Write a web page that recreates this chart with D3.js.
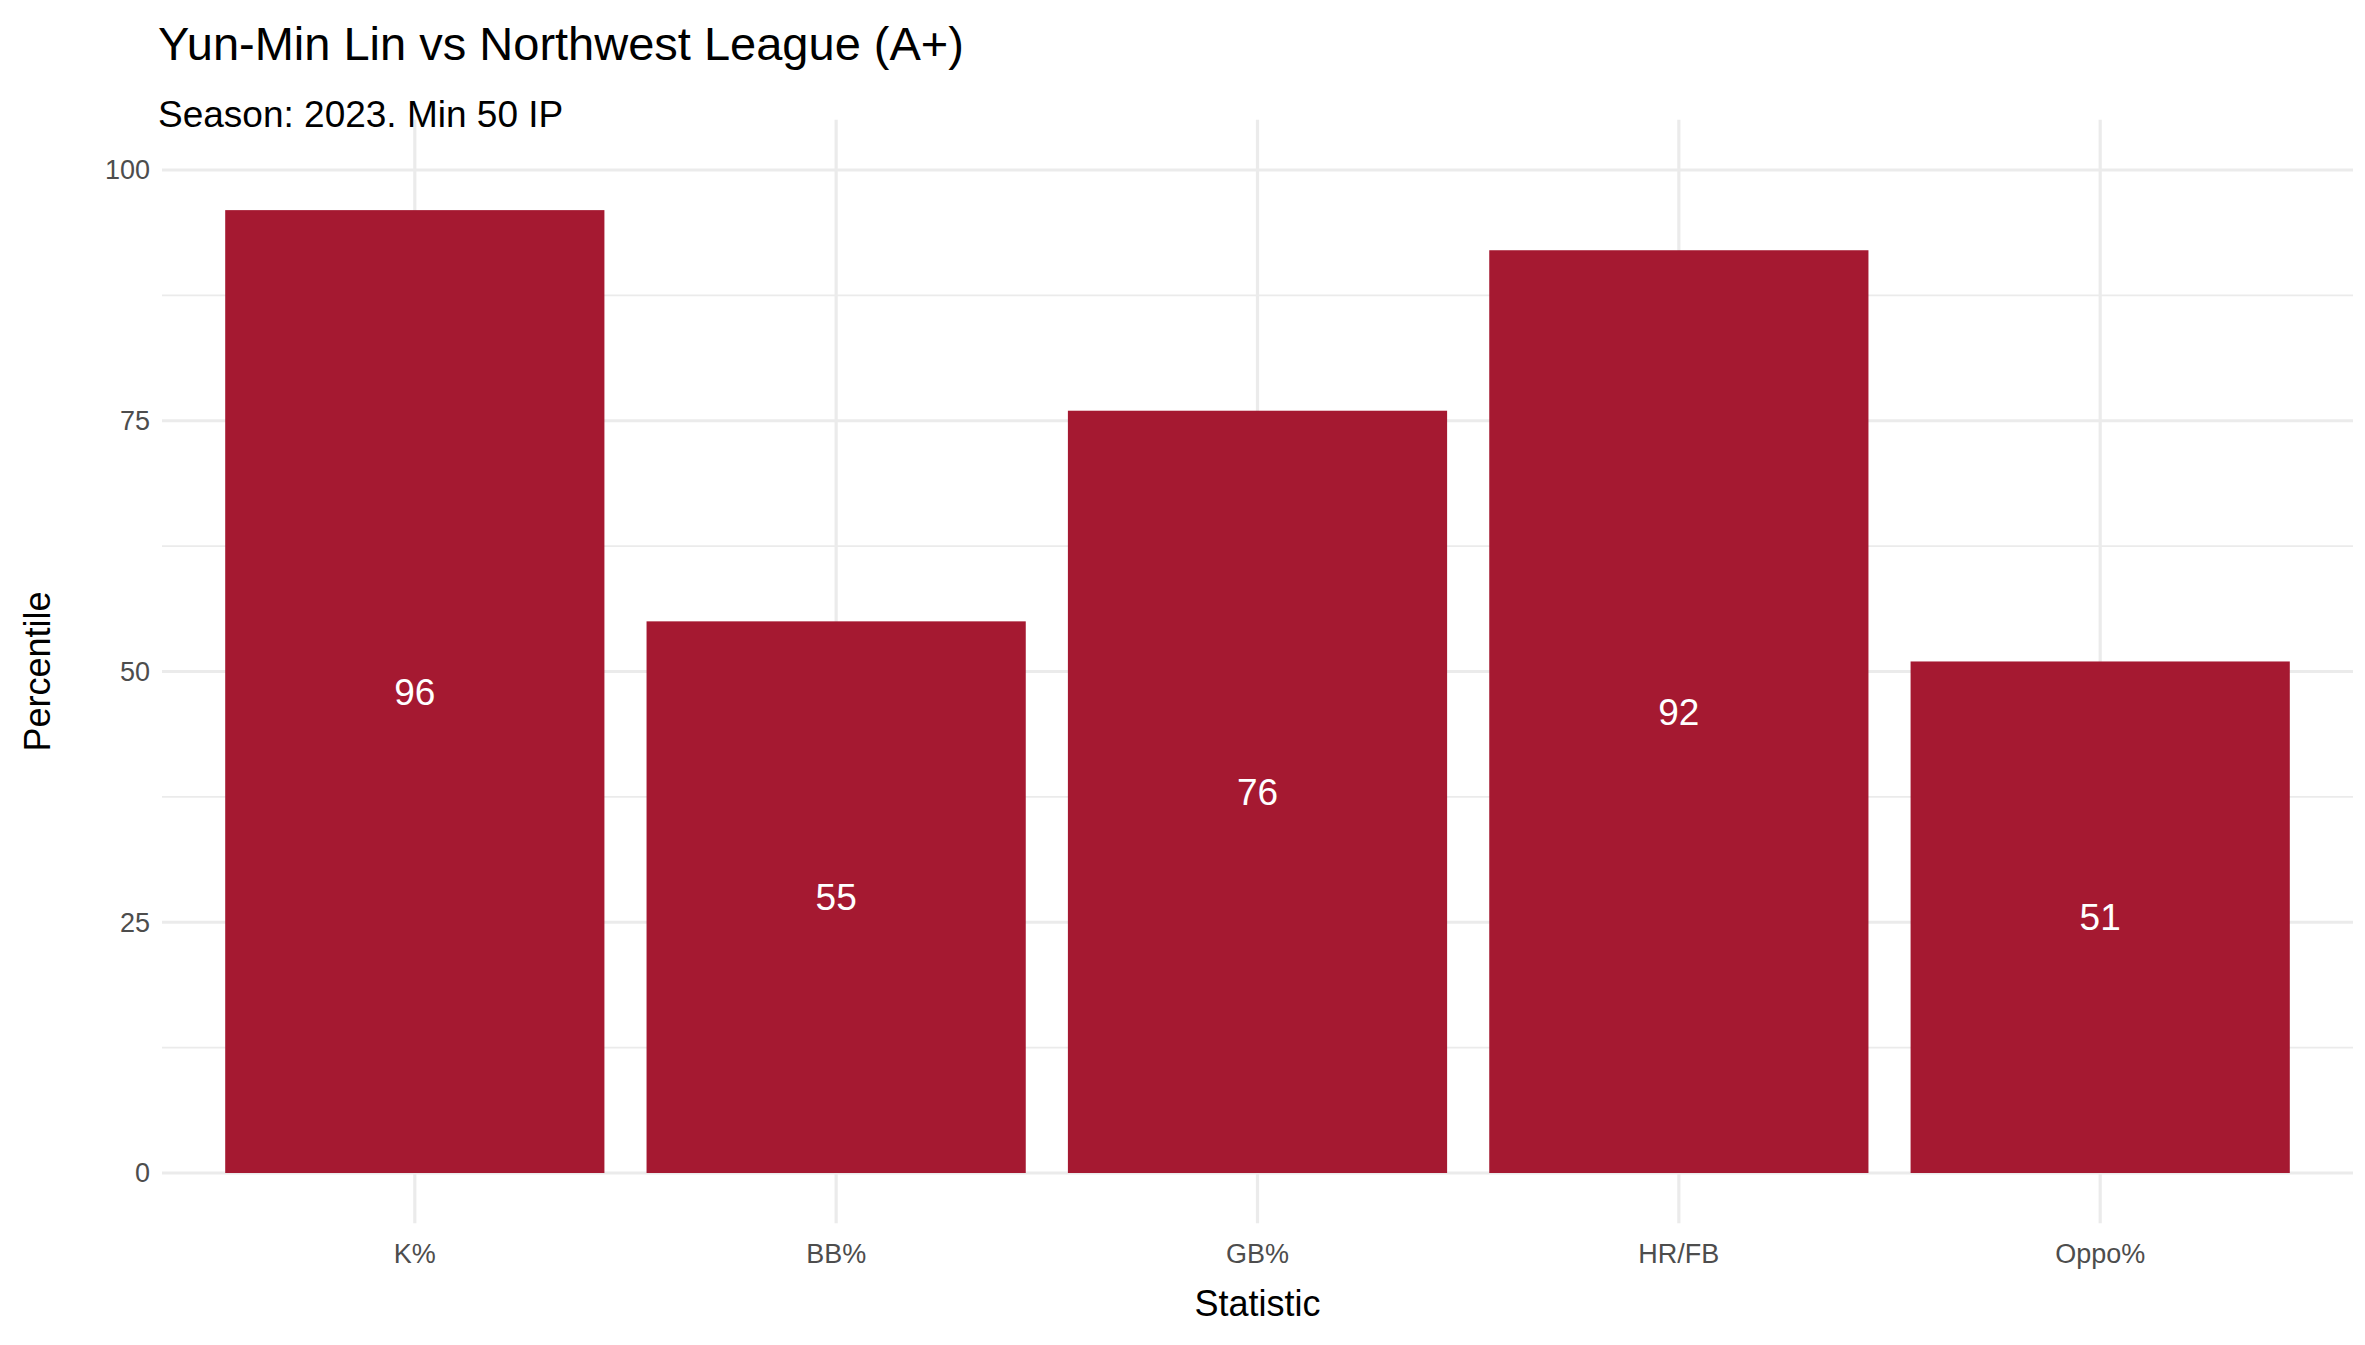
<!DOCTYPE html>
<html><head><meta charset="utf-8">
<script src="https://cdn.jsdelivr.net/npm/d3@7"></script>
<style>body{margin:0;background:#fff}text{font-family:"Liberation Sans",Arial,sans-serif}</style>
</head><body>
<svg id="chart" width="2365" height="1345"></svg>
<script>
var stats = ["K%", "BB%", "GB%", "HR/FB", "Oppo%"];
var percentiles = [96, 55, 76, 92, 51];
var yTicks = [0, 25, 50, 75, 100];
var yMinor = [12.5, 37.5, 62.5, 87.5];

(function() {
var svg = d3.select("#chart");
var pLeft = 162, pRight = 2353, pTop = 170, pBottom = 1173;

var x = d3.scaleBand().domain(stats).range([pLeft, pRight]).paddingInner(0.1).paddingOuter(0.15);
var y = d3.scaleLinear().domain([0, 100]).range([pBottom, pTop]);
var gridTop = pTop - 0.05 * (pBottom - pTop), gridBot = pBottom + 0.05 * (pBottom - pTop);

// grid
svg.selectAll(".minor").data(yMinor).enter().append("line")
  .attr("x1", pLeft).attr("x2", pRight)
  .attr("y1", function(d) { return y(d); }).attr("y2", function(d) { return y(d); })
  .attr("stroke", "#ebebeb").attr("stroke-width", 1.6);
svg.selectAll(".major").data(yTicks).enter().append("line")
  .attr("x1", pLeft).attr("x2", pRight)
  .attr("y1", function(d) { return y(d); }).attr("y2", function(d) { return y(d); })
  .attr("stroke", "#ebebeb").attr("stroke-width", 3.2);
svg.selectAll(".vmajor").data(stats).enter().append("line")
  .attr("x1", function(d) { return x(d) + x.bandwidth() / 2; })
  .attr("x2", function(d) { return x(d) + x.bandwidth() / 2; })
  .attr("y1", gridTop).attr("y2", gridBot)
  .attr("stroke", "#ebebeb").attr("stroke-width", 3.2);

// bars
svg.selectAll(".bar").data(percentiles).enter().append("rect")
  .attr("x", function(d, i) { return x(stats[i]); })
  .attr("y", function(d) { return y(d); })
  .attr("width", x.bandwidth())
  .attr("height", function(d) { return y(0) - y(d); })
  .attr("fill", "#a51931");

svg.selectAll(".lbl").data(percentiles).enter().append("text")
  .attr("x", function(d, i) { return x(stats[i]) + x.bandwidth() / 2; })
  .attr("y", function(d) { return y(d / 2); })
  .attr("dy", "0.35em").attr("text-anchor", "middle")
  .attr("fill", "#fff").attr("font-size", 37)
  .text(function(d) { return d; });

// axis labels
svg.selectAll(".yt").data(yTicks).enter().append("text")
  .attr("x", pLeft - 12).attr("y", function(d) { return y(d); })
  .attr("dy", "0.35em").attr("text-anchor", "end")
  .attr("fill", "#4d4d4d").attr("font-size", 27)
  .text(function(d) { return d; });
svg.selectAll(".xt").data(stats).enter().append("text")
  .attr("x", function(d) { return x(d) + x.bandwidth() / 2; })
  .attr("y", gridBot + 40).attr("text-anchor", "middle")
  .attr("fill", "#4d4d4d").attr("font-size", 27)
  .text(function(d) { return d; });

svg.append("text").attr("x", (pLeft + pRight) / 2).attr("y", 1316)
  .attr("text-anchor", "middle").attr("font-size", 36).text("Statistic");
svg.append("text").attr("transform", "translate(50," + (pTop + pBottom) / 2 + ") rotate(-90)")
  .attr("text-anchor", "middle").attr("font-size", 36).text("Percentile");

svg.append("text").attr("x", 158).attr("y", 60).attr("font-size", 47)
  .text("Yun-Min Lin vs Northwest League (A+)");
svg.append("text").attr("x", 158).attr("y", 127).attr("font-size", 37)
  .text("Season: 2023. Min 50 IP");
})();
</script>
</body></html>
